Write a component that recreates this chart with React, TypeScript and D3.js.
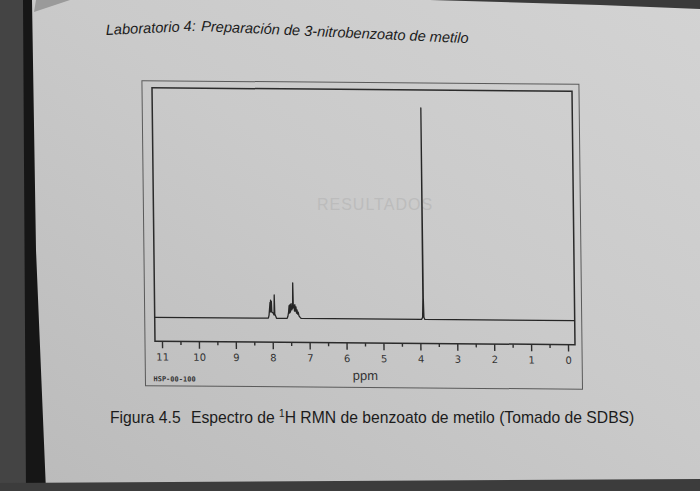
import React, { useRef, useEffect } from 'react'
import * as d3 from 'd3'

// x axis (ppm)
const majorTicks = [11, 10, 9, 8, 7, 6, 5, 4, 3, 2, 1, 0]
const minorTicks = [10.5, 9.5, 8.5, 7.5, 6.5, 5.5, 4.5, 3.5, 2.5, 1.5, 0.5]

// trace vertices [ppm, relative intensity]
const orthoGroup: [number, number][] = [
  [8.11, 0], [8.09, 0.015], [8.06, 0.075], [8.055, 0.03], [8.045, 0.085],
  [8.035, 0.03], [8.025, 0.08], [8.015, 0.03], [7.98, 0.025], [7.955, 0.015],
  [7.945, 0.11], [7.935, 0.02], [7.91, 0.01], [7.89, 0],
]
const aromaticGroup: [number, number][] = [
  [7.6, 0], [7.58, 0.01], [7.56, 0.03], [7.545, 0.06], [7.535, 0.025],
  [7.52, 0.065], [7.51, 0.03], [7.49, 0.07], [7.475, 0.04], [7.45, 0.05],
  [7.44, 0.168], [7.43, 0.05], [7.41, 0.06], [7.4, 0.035], [7.39, 0.065],
  [7.375, 0.035], [7.36, 0.055], [7.345, 0.025], [7.33, 0.04], [7.315, 0.02],
  [7.3, 0.03], [7.28, 0.012], [7.25, 0.005], [7.22, 0],
]
const methylGroup: [number, number][] = [
  [3.96, 0], [3.93, 0.01], [3.918, 0.1], [3.912, 1.0], [3.906, 0.1],
  [3.895, 0.01], [3.87, 0],
]

const headerLeft = 'Laboratorio 4:'
const headerRight = 'Preparación de 3-nitrobenzoato de metilo'
const captionLead = 'Figura 4.5'
const captionText = ['Espectro de ', '1', 'H RMN de benzoato de metilo (Tomado de SDBS)']
const xLabel = 'ppm'
const plotCode = 'HSP-00-100'
const ghostText = 'RESULTADOS'

const W = 420
const H = 253.5

const App = () => {
  const axisRef = useRef<SVGGElement>(null)

  const xScale = d3.scaleLinear().domain([11, 0]).range([7, W - 7])
  const yScale = d3.scaleLinear().domain([0, 1]).range([229.5, 18])

  useEffect(() => {
    const g = d3.select(axisRef.current)
    g.selectAll('*').remove()

    const major = d3
      .axisBottom(xScale)
      .tickValues(majorTicks)
      .tickSize(7)
      .tickSizeOuter(0)
      .tickPadding(5)
      .tickFormat(d3.format('d'))
    const minor = d3
      .axisBottom(xScale)
      .tickValues(minorTicks)
      .tickSize(3.5)
      .tickSizeOuter(0)
      .tickFormat(() => '')

    g.append('g').call(minor)
    g.append('g').call(major)

    g.selectAll('.domain').remove()
    g.selectAll('.tick line').attr('stroke', '#2e2e2e').attr('stroke-width', 1.4)
    g.selectAll('.tick text')
      .attr('fill', '#333')
      .style('font-family', '"DejaVu Sans", sans-serif')
      .style('font-size', '10px')
  }, [])

  const trace: [number, number][] = [
    [xScale.invert(0), 0],
    ...orthoGroup,
    ...aromaticGroup,
    ...methylGroup,
    [xScale.invert(W), 0],
  ]
  const line = d3
    .line<[number, number]>()
    .x((d) => xScale(d[0]))
    .y((d) => yScale(d[1]))

  return (
    <svg
      width={700}
      height={491}
      style={{ position: 'absolute', left: 0, top: 0, display: 'block' }}>
      <defs>
        <linearGradient id="page" x1="0" y1="1" x2="1" y2="0">
          <stop offset="0" stopColor="#bababa" />
          <stop offset="0.55" stopColor="#cacaca" />
          <stop offset="1" stopColor="#d3d3d3" />
        </linearGradient>
      </defs>
      <rect width={700} height={491} fill="url(#page)" />

      {/* page edges / binding */}
      <polygon points="0,0 24,0 27,491 0,491" fill="#444" />
      <polygon points="23,0 32,0 36,250 46,491 26,491" fill="#161616" />
      <polygon points="430,0 700,0 700,9 600,5" fill="#3a3a3a" />
      <polygon points="36,0 70,0 34,12" fill="#9a9a9a" />
      <polygon points="0,483 700,479 700,491 0,491" fill="#3c3c3c" />

      {/* show-through from the next sheet */}
      <text
        x={375}
        y={210}
        textAnchor="middle"
        fill="#bcbcbc"
        style={{ font: '16px "Liberation Sans", Arial, sans-serif', letterSpacing: '1px' }}>
        {ghostText}
      </text>

      {/* running header */}
      <g style={{ font: 'italic 14.6px "Liberation Sans", Arial, sans-serif' }} fill="#1c1c1c">
        <text transform="translate(106,35) rotate(-2.7)">{headerLeft}</text>
        <text transform="translate(201,31) rotate(2.6)">{headerRight}</text>
      </g>

      {/* the spectrum, skewed a little like the photographed page */}
      <g transform={`matrix(1,0.008,0.0118,1,152,87.8)`}>
        <rect
          x={-10}
          y={-7}
          width={437}
          height={305}
          fill="none"
          stroke="#5a5a5a"
          strokeWidth={1}
        />
        <rect x={0} y={0} width={W} height={H} fill="none" stroke="#2b2b2b" strokeWidth={1.5} />
        <path d={line(trace) || ''} fill="none" stroke="#262626" strokeWidth={1.3} strokeLinejoin="round" />
        <g ref={axisRef} transform={`translate(0,${H})`} />
        <text
          x={W / 2}
          y={H + 37}
          textAnchor="middle"
          fill="#333"
          style={{ font: '13px "Liberation Sans", Arial, sans-serif' }}>
          {xLabel}
        </text>
        <text
          x={-2}
          y={H + 40}
          fill="#333"
          style={{ font: 'bold 7px "DejaVu Sans Mono", monospace' }}>
          {plotCode}
        </text>
      </g>

      {/* figure caption */}
      <text
        y={423}
        fill="#1c1c1c"
        style={{ font: '15.7px "Liberation Sans", Arial, sans-serif' }}>
        <tspan x={110}>{captionLead}</tspan>
        <tspan x={191}>{captionText[0]}</tspan>
        <tspan dy={-6.5} style={{ fontSize: '10px' }}>{captionText[1]}</tspan>
        <tspan dy={6.5}>{captionText[2]}</tspan>
      </text>
    </svg>
  )
}

export default App
